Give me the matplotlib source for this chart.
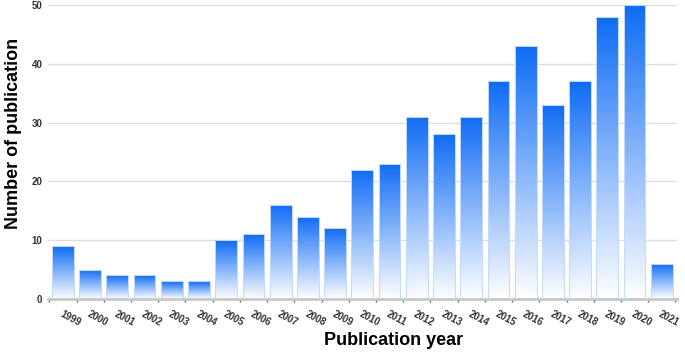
import numpy as np
from matplotlib import pyplot as plt
from matplotlib.colors import LinearSegmentedColormap

years = [str(y) for y in range(1999, 2022)]
counts = [9, 5, 4, 4, 3, 3, 10, 11, 16, 14, 12, 22, 23, 31, 28, 31, 37, 43, 33, 37, 48, 50, 6]

plt.rcParams['font.family'] = ['Liberation Sans', 'DejaVu Sans']

fig = plt.figure(figsize=(6.85, 3.55), dpi=100)
ax = fig.add_axes([0.070, 0.158, 0.918, 0.828])

# gradient from white (bottom) to blue (top)
cmap = LinearSegmentedColormap.from_list("bl", ["#ffffff", "#0f6cf5"])
grad = np.linspace(0, 1, 256).reshape(-1, 1)
w = 0.8
x = np.arange(len(years))
bars = ax.bar(x, counts, width=w, facecolor='none', edgecolor='#c4dafc',
              linewidth=0.7, zorder=3)
for b in bars:
    x0, h = b.get_x(), b.get_height()
    im = ax.imshow(grad, cmap=cmap, origin='lower', aspect='auto',
                   extent=(x0, x0 + w, 0, h), zorder=2, interpolation='nearest')
    im.set_clip_path(b)

ax.set_xlim(-0.55, len(years) - 0.45)
ax.set_ylim(0, 50)
ax.set_yticks([0, 10, 20, 30, 40, 50])
ax.yaxis.grid(True, color='#dddddd', linewidth=1)
ax.set_axisbelow(True)

ax.set_xticks(x)
ax.set_xticklabels(years, rotation=-28, ha='left', rotation_mode='anchor',
                   fontsize=7, fontweight='bold', color='#333333')
ax.set_xticks(np.arange(len(years) + 1) - 0.5, minor=True)
ax.tick_params(axis='x', which='major', length=0, pad=7)
ax.tick_params(axis='x', which='minor', length=2, color='#666666', width=1)
ax.tick_params(axis='y', length=0, labelsize=7, labelcolor='#333333', pad=4)
for lb in ax.get_yticklabels():
    lb.set_fontweight('bold')

for s in ['top', 'right', 'left']:
    ax.spines[s].set_visible(False)
ax.spines['bottom'].set_color('#c8c8c8')
ax.spines['bottom'].set_linewidth(2)

fig.text(0.575, 0.040, 'Publication year', fontsize=13, fontweight='bold',
         ha='center', va='center')
fig.text(0.020, 0.625, 'Number of publication', fontsize=13, fontweight='bold',
         ha='center', va='center', rotation=90)

fig.savefig('out.png', dpi=100)
